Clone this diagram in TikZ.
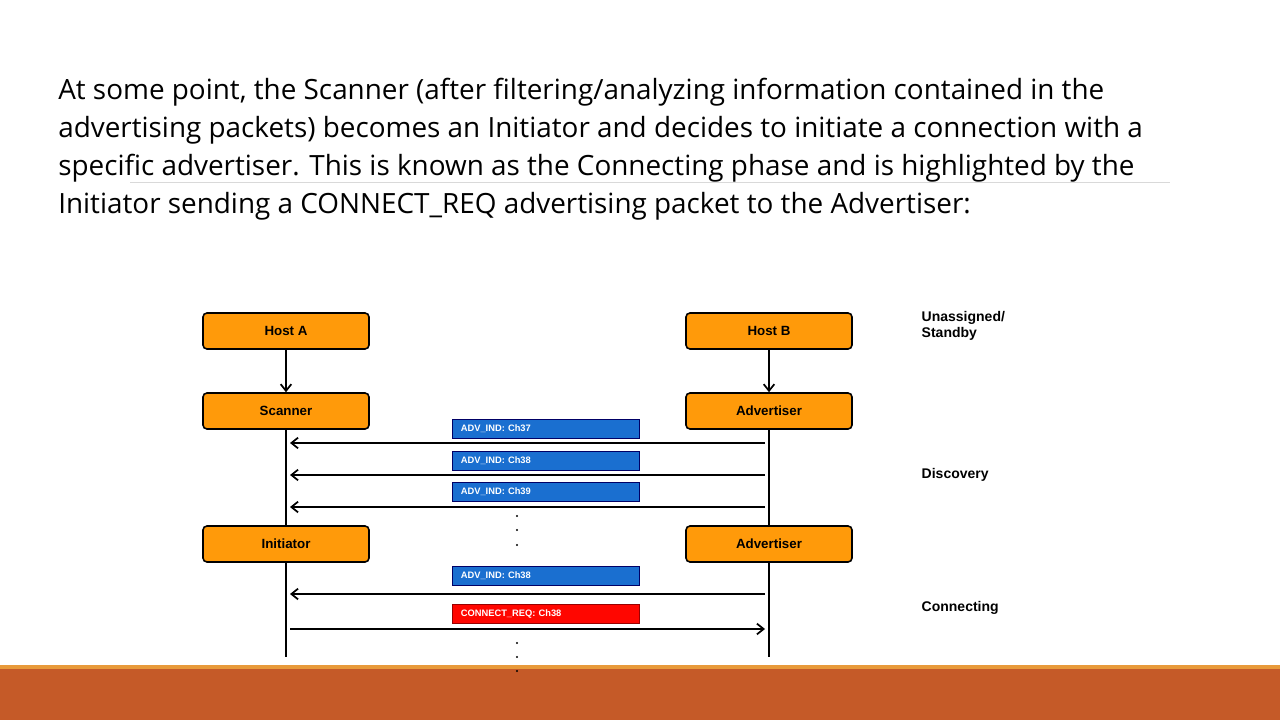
\documentclass[tikz,border=0pt]{standalone}
\usepackage{fontspec}
\usetikzlibrary{arrows.meta}
\setmainfont{Open Sans}
\newfontfamily\arialf{Liberation Sans}
\definecolor{boxor}{HTML}{FF9A0A}
\definecolor{msgblue}{HTML}{1A6FD0}
\definecolor{barc}{HTML}{C55A28}
\definecolor{barl}{HTML}{E89A3A}
\begin{document}
\begin{tikzpicture}[x=0.75pt,y=-0.75pt,
  state/.style={draw=black,line width=1.2pt,fill=boxor,rounded corners=3pt,minimum width=124.5pt,minimum height=27pt,font=\arialf\bfseries\fontsize{10}{12}\selectfont},
  msg/.style={fill=msgblue,draw=blue!40!black,minimum width=140pt,minimum height=14pt,text=white,font=\arialf\bfseries\fontsize{7}{8}\selectfont,text width=127pt,align=left},
  life/.style={line width=1.3pt},
  arr/.style={line width=1.3pt,-{Straight Barb[length=5pt,width=8pt]}},
  side/.style={anchor=west,font=\arialf\bfseries\fontsize{10.5}{11}\selectfont},
  line/.style={anchor=base west,inner sep=0pt,font=\fontsize{20.9}{24}\selectfont},
  dotn/.style={circle,fill=black,inner sep=0pt,minimum size=1.6pt}]
\useasboundingbox (0,0) rectangle (1280,720);
\fill[white] (0,0) rectangle (1280,720);
\fill[barl] (0,665) rectangle (1280,669);
\fill[barc] (0,669) rectangle (1280,720);
\draw[gray!30,line width=0.5pt] (130,182) -- (1170,182);
\node[line] (t1) at (58,100) {At some point, the Scanner (after filtering/analyzing information contained in the};
\node[line] (t2) at (58,138) {advertising packets) becomes an Initiator and decides to initiate a connection with a};
\node[line] (t3) at (58,176) {specific advertiser. This is known as the Connecting phase and is highlighted by the};
\node[line] (t4) at (58,214) {Initiator sending a CONNECT\_REQ advertising packet to the Advertiser:};
\node[state] (ha) at (286,331) {Host A};
\node[state] (sc) at (286,411) {Scanner};
\node[state] (in) at (286,544) {Initiator};
\node[state] (hb) at (769,331) {Host B};
\node[state] (ad1) at (769,411) {Advertiser};
\node[state] (ad2) at (769,544) {Advertiser};
\draw[arr] (ha) -- (sc);
\draw[arr] (hb) -- (ad1);
\draw[life] (sc) -- (in);
\draw[life] (ad1) -- (ad2);
\coordinate (la) at (286,657);
\coordinate (lb) at (769,657);
\draw[life] (in) -- (la);
\draw[life] (ad2) -- (lb);
\foreach \y/\n in {443/a,475/b,507/c,594/d,629/e}{
  \coordinate (L\n) at (290,\y); \coordinate (R\n) at (765,\y);}
\draw[arr] (Ra) -- (La);
\draw[arr] (Rb) -- (Lb);
\draw[arr] (Rc) -- (Lc);
\draw[arr] (Rd) -- (Ld);
\draw[arr] (Le) -- (Re);
\node[msg] (m1) at (545.5,428.5) {ADV\_IND: Ch37};
\node[msg] (m2) at (545.5,460.5) {ADV\_IND: Ch38};
\node[msg] (m3) at (545.5,492) {ADV\_IND: Ch39};
\node[msg] (m4) at (545.5,576) {ADV\_IND: Ch38};
\node[msg,fill=red!95!orange,draw=red!60!black] (m5) at (545.5,614) {CONNECT\_REQ: Ch38};
\foreach \y [count=\i] in {516,530,545,643,657,671}\node[dotn] (d\i) at (517,\y) {};
\node[side] (s1a) at (917,318) {Unassigned/};
\node[side] (s1b) at (917,334) {Standby};
\node[side] (s2) at (917,475) {Discovery};
\node[side] (s3) at (917,608) {Connecting};
\end{tikzpicture}
\end{document}
